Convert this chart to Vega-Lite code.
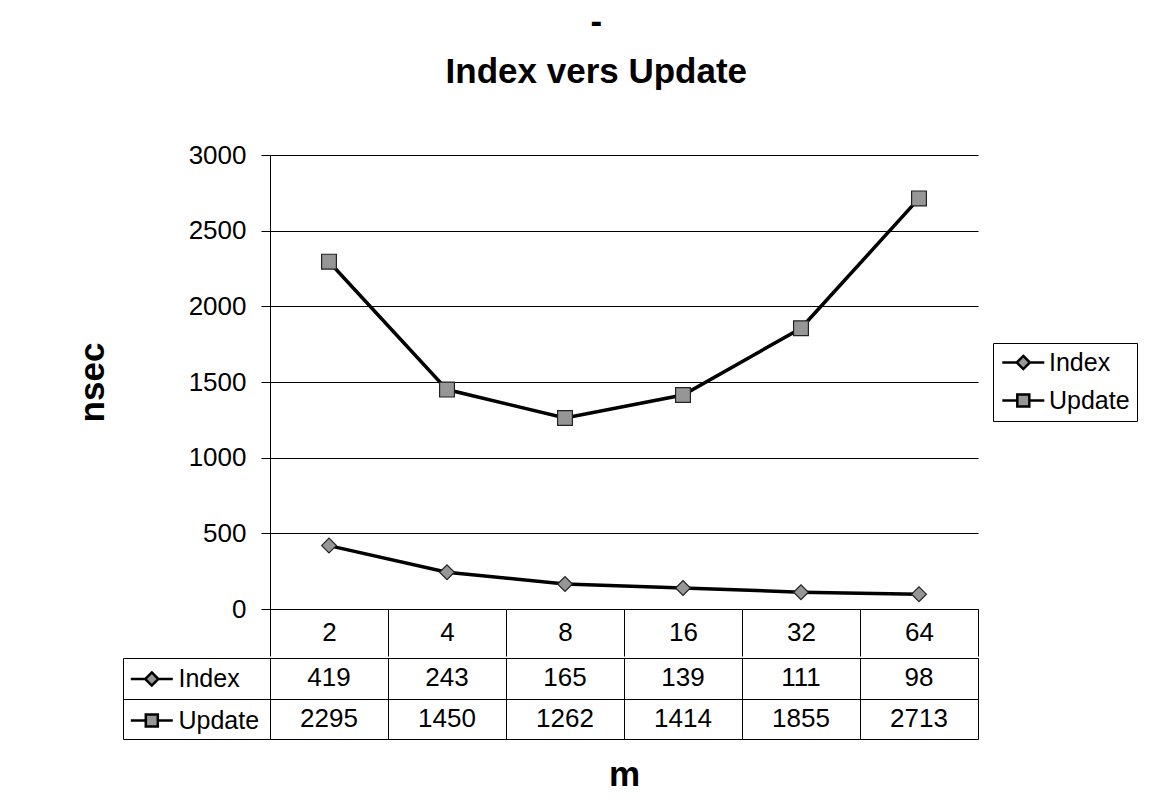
{
  "$schema": "https://vega.github.io/schema/vega-lite/v6.json",
  "background": "white",
  "padding": {"left": 75, "top": 5, "right": 5, "bottom": 5},
  "config": {
    "font": "Liberation Sans",
    "view": {"stroke": null},
    "axis": {"labelColor": "#000", "titleColor": "#000", "domainColor": "#000", "tickColor": "#000", "gridColor": "#000", "gridOpacity": 1, "labelFontSize": 26, "titleFontSize": 35, "titleFontWeight": "bold", "labelFont": "Liberation Sans", "titleFont": "Liberation Sans"},
    "legend": {"labelFont": "Liberation Sans", "labelFontSize": 25, "labelColor": "#000"}
  },
  "title": {"text": ["-", "Index vers Update"], "fontSize": 35, "fontWeight": "bold", "lineHeight": 50, "anchor": "middle", "color": "#000", "offset": 52, "dx": -10},
  "datasets": {
    "d": [
      {"m": "2", "series": "Index", "value": 419},
      {"m": "4", "series": "Index", "value": 243},
      {"m": "8", "series": "Index", "value": 165},
      {"m": "16", "series": "Index", "value": 139},
      {"m": "32", "series": "Index", "value": 111},
      {"m": "64", "series": "Index", "value": 98},
      {"m": "2", "series": "Update", "value": 2295},
      {"m": "4", "series": "Update", "value": 1450},
      {"m": "8", "series": "Update", "value": 1262},
      {"m": "16", "series": "Update", "value": 1414},
      {"m": "32", "series": "Update", "value": 1855},
      {"m": "64", "series": "Update", "value": 2713}
    ]
  },
  "data": {"name": "d"},
  "spacing": 0,
  "resolve": {"scale": {"shape": "independent"}, "legend": {"shape": "independent"}},
  "vconcat": [
    {
      "width": 708,
      "height": 454,
      "encoding": {
        "x": {"field": "m", "type": "ordinal", "sort": null,
          "scale": {"type": "band", "paddingInner": 0, "paddingOuter": 0},
          "axis": {"title": null, "labelAngle": 0, "domain": true, "ticks": true, "tickBand": "extent", "tickSize": 47, "labelBaseline": "middle", "labelPadding": -24, "grid": false}},
        "y": {"field": "value", "type": "quantitative",
          "scale": {"domain": [0, 3000], "nice": false, "zero": true},
          "axis": {"title": "nsec", "format": "d", "values": [0, 500, 1000, 1500, 2000, 2500, 3000], "grid": true, "tickSize": 9, "labelPadding": 15, "titlePadding": 78}}
      },
      "layer": [
        {"mark": {"type": "line", "color": "#000", "strokeWidth": 3.5}, "encoding": {"detail": {"field": "series"}}},
        {"mark": {"type": "point", "filled": true, "fill": "#969696", "stroke": "#222", "strokeWidth": 1.2, "opacity": 1, "size": 220},
          "encoding": {"shape": {"field": "series", "type": "nominal", "scale": {"domain": ["Index", "Update"], "range": ["diamond", "square"]}, "legend": null}}},
        {"mark": {"type": "point", "filled": true, "fill": "#969696", "opacity": 0},
          "encoding": {"shape": {"field": "series", "type": "nominal",
            "scale": {"domain": ["Index", "Update"], "range": ["M-1.7,0H0.7M2.9,0H5.3M1.8,-1.1L2.9,0L1.8,1.1L0.7,0Z", "M-1.7,0H0.8M2.8,0H5.3M0.8,-1H2.8V1H0.8Z"]},
            "legend": {"title": null, "orient": "none", "legendX": 723, "legendY": 188, "padding": 7, "rowPadding": 12, "symbolSize": 144, "labelOffset": 24,
              "symbolOpacity": 1, "symbolStrokeWidth": 2.5, "labelOpacity": 0}}}},
        {"mark": {"type": "point", "opacity": 0},
          "encoding": {"shape": {"field": "series", "type": "nominal",
            "scale": {"domain": ["Index", "Update"], "range": ["M-1.7,0H0.7M2.9,0H5.3M1.8,-1.1L2.9,0L1.8,1.1L0.7,0Z", "M-1.7,0H0.8M2.8,0H5.3M0.8,-1H2.8V1H0.8Z"]},
            "legend": {"title": null, "orient": "none", "legendX": 723, "legendY": 188, "padding": 7, "rowPadding": 12, "strokeColor": "#000", "symbolSize": 144, "labelOffset": 24,
              "symbolOpacity": 1, "symbolStrokeColor": "#000", "symbolStrokeWidth": 2.5}}}}
      ],
      "resolve": {"scale": {"shape": "independent"}}
    },
    {
      "width": 708,
      "height": 81,
      "encoding": {
        "x": {"field": "m", "type": "ordinal", "sort": null,
          "scale": {"type": "band", "paddingInner": 0, "paddingOuter": 0},
          "axis": {"title": "m", "labels": false, "ticks": false, "domain": false, "grid": true, "tickBand": "extent", "titlePadding": 18}},
        "y": {"field": "series", "type": "nominal", "sort": ["Index", "Update"],
          "scale": {"type": "band", "paddingInner": 0, "paddingOuter": 0}}
      },
      "layer": [
        {"mark": {"type": "text", "fontSize": 26, "color": "#000", "baseline": "middle", "align": "center"},
          "encoding": {"text": {"field": "value"},
            "y": {"field": "series", "type": "nominal", "sort": ["Index", "Update"], "scale": {"type": "band", "paddingInner": 0, "paddingOuter": 0},
              "axis": {"title": null, "labels": false, "grid": true, "tickBand": "extent", "ticks": true, "tickSize": 147, "domain": true, "orient": "left"}}}},
        {"mark": {"type": "point", "filled": true, "fill": "#969696", "opacity": 0},
          "encoding": {
            "y": {"field": "series", "type": "nominal", "sort": ["Index", "Update"], "scale": {"type": "band", "paddingInner": 0, "paddingOuter": 0},
              "axis": {"title": null, "labels": false, "grid": false, "ticks": false, "domain": true, "orient": "left", "offset": 147}},
            "shape": {"field": "series", "type": "nominal",
            "scale": {"domain": ["Index", "Update"], "range": ["M-1.7,0H0.7M2.9,0H5.3M1.8,-1.1L2.9,0L1.8,1.1L0.7,0Z", "M-1.7,0H0.8M2.8,0H5.3M0.8,-1H2.8V1H0.8Z"]},
            "legend": {"title": null, "orient": "none", "legendX": -141.5, "legendY": 8.5, "padding": 0, "rowPadding": 15.5, "symbolSize": 144, "labelOffset": 25,
              "symbolOpacity": 1, "symbolStrokeWidth": 2.5, "labelOpacity": 0}}}},
        {"mark": {"type": "point", "opacity": 0},
          "encoding": {
            "y": {"field": "series", "type": "nominal", "sort": ["Index", "Update"], "scale": {"type": "band", "paddingInner": 0, "paddingOuter": 0}, "axis": null},
            "shape": {"field": "series", "type": "nominal",
            "scale": {"domain": ["Index", "Update"], "range": ["M-1.7,0H0.7M2.9,0H5.3M1.8,-1.1L2.9,0L1.8,1.1L0.7,0Z", "M-1.7,0H0.8M2.8,0H5.3M0.8,-1H2.8V1H0.8Z"]},
            "legend": {"title": null, "orient": "none", "legendX": -141.5, "legendY": 8.5, "padding": 0, "rowPadding": 15.5, "symbolSize": 144, "labelOffset": 25,
              "symbolOpacity": 1, "symbolStrokeColor": "#000", "symbolStrokeWidth": 2.5}}}}
      ],
      "resolve": {"axis": {"y": "independent"}, "scale": {"shape": "independent"}}
    }
  ]
}
